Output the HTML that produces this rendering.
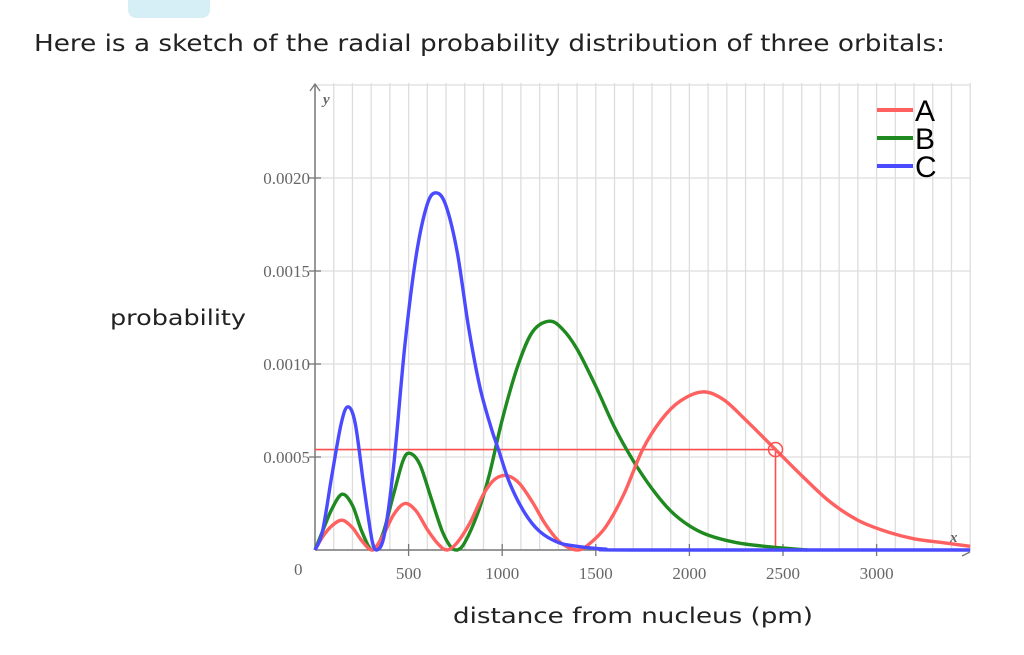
<!DOCTYPE html>
<html><head><meta charset="utf-8"><style>
html,body{margin:0;padding:0;background:#fff;width:1024px;height:655px;overflow:hidden;font-family:"DejaVu Sans",sans-serif}
</style></head><body>
<svg width="1024" height="655" viewBox="0 0 1024 655" xmlns="http://www.w3.org/2000/svg">
<rect x="128" y="-10" width="82" height="28" rx="8" fill="#d6eef6"/>
<text x="34" y="51" font-size="23" fill="#222" font-family="DejaVu Sans, sans-serif" textLength="911" lengthAdjust="spacingAndGlyphs">Here is a sketch of the radial probability distribution of three orbitals:</text>
<text x="110" y="325" font-size="21" fill="#222" font-family="DejaVu Sans, sans-serif" textLength="136" lengthAdjust="spacingAndGlyphs">probability</text>
<text x="453" y="623" font-size="21" fill="#222" font-family="DejaVu Sans, sans-serif" textLength="360" lengthAdjust="spacingAndGlyphs">distance from nucleus (pm)</text>
<g id="grid"></g>
<g id="axes"></g>
<g id="series"></g>
<g id="legend"></g>
</svg>
<script>
const xTicks=[500,1000,1500,2000,2500,3000];
const yTicks=[0.0005,0.0010,0.0015,0.0020];
const yTickLabels=["0.0005","0.0010","0.0015","0.0020"];
const seriesNames=["A","B","C"];
const xA=[0,40,90,145,200,250,305,360,420,480,540,600,660,705,760,830,900,960,1025,1090,1160,1230,1300,1360,1400,1450,1550,1650,1750,1850,1950,2070,2180,2300,2460,2600,2750,2900,3050,3200,3350,3500];
const yA=[0,0.00007,0.00013,0.00016,0.00012,0.00005,0,0.00007,0.00019,0.00025,0.00021,0.00011,0.00003,0,0.00004,0.00015,0.0003,0.00038,0.0004,0.00036,0.00026,0.00014,0.00005,0.00001,0,0.00002,0.00012,0.0003,0.00054,0.0007,0.0008,0.00085,0.00081,0.0007,0.00054,0.0004,0.00026,0.00016,0.0001,0.00006,0.00004,0.00002];
const xB=[0,40,90,145,200,250,305,360,420,470,507,560,620,680,730,760,800,870,930,1000,1080,1160,1250,1320,1400,1500,1600,1700,1800,1900,2000,2100,2250,2400,2630];
const yB=[0,0.0001,0.00022,0.0003,0.00024,0.0001,0,0.00008,0.0003,0.00048,0.00052,0.00046,0.00028,0.0001,0.00001,0,0.00004,0.0002,0.0004,0.0007,0.00098,0.00117,0.00123,0.00119,0.00108,0.00088,0.00066,0.00048,0.00033,0.00021,0.00013,0.00008,0.00004,0.00002,0];
const xC=[0,40,90,140,176,215,260,305,330,370,420,480,540,600,650,700,760,820,880,940,980,1040,1120,1200,1300,1400,1550,1700,3500];
const yC=[0,0.0001,0.0004,0.00068,0.00077,0.00068,0.00035,0.00005,0,0.00008,0.00045,0.0011,0.00158,0.00186,0.00192,0.00185,0.0016,0.0012,0.00088,0.00066,0.00054,0.00036,0.0002,0.0001,0.00004,0.00002,0.000005,0,0];
const markX=2460, markY=0.00054;
const NS="http://www.w3.org/2000/svg";
const X0=315,XS=93.6/500,Y0=550,YS=93/0.0005;
const sx=v=>X0+v*XS, sy=v=>Y0-v*YS;
function mk(tag,attrs,parent){const e=document.createElementNS(NS,tag);for(const k in attrs)e.setAttribute(k,attrs[k]);parent.appendChild(e);return e;}
const grid=document.getElementById('grid'),axes=document.getElementById('axes'),ser=document.getElementById('series'),leg=document.getElementById('legend');
for(let v=100;v<=3500;v+=100){const l=mk('line',{x1:sx(v),x2:sx(v),y1:83,y2:Y0,stroke:'#ddd','stroke-width':1.3},grid);

}
for(const v of [0.0005,0.001,0.0015,0.002,0.0025]){const l=mk('line',{x1:X0,x2:970,y1:sy(v),y2:sy(v),stroke:'#ddd','stroke-width':1.3},grid);

}
mk('line',{x1:X0,x2:X0,y1:Y0,y2:84,stroke:'#777','stroke-width':1.5},axes);
mk('path',{d:`M${X0-5} 91 L${X0} 84 L${X0+5} 91`,fill:'none',stroke:'#777','stroke-width':1.3},axes);
mk('line',{x1:X0,x2:970,y1:Y0,y2:Y0,stroke:'#777','stroke-width':1.5},axes);
mk('path',{d:`M962 556 L970 552`,fill:'none',stroke:'#777','stroke-width':1.3},axes);
let t=mk('text',{x:X0+8,y:104,'font-size':15,'font-style':'italic','font-weight':'bold','font-family':'Liberation Serif, serif',fill:'#666'},axes);t.textContent='y';
t=mk('text',{x:950,y:542,'font-size':15,'font-style':'italic','font-weight':'bold','font-family':'Liberation Serif, serif',fill:'#666'},axes);t.textContent='x';
t=mk('text',{x:294,y:575,'font-size':17,'font-family':'Liberation Serif, serif',fill:'#666'},axes);t.textContent='0';
xTicks.forEach(v=>{mk('line',{x1:sx(v),x2:sx(v),y1:Y0-6,y2:Y0+6,stroke:'#777','stroke-width':1.3},axes);
const tx=mk('text',{x:sx(v),y:579,'font-size':17,'text-anchor':'middle','font-family':'Liberation Serif, serif',fill:'#666'},axes);tx.textContent=v;

});
yTicks.forEach((v,i)=>{mk('line',{x1:X0-6,x2:X0+6,y1:sy(v),y2:sy(v),stroke:'#777','stroke-width':1.3},axes);
const tx=mk('text',{x:X0-5,y:sy(v)+6,'font-size':17,'text-anchor':'end','font-family':'Liberation Serif, serif',fill:'#666'},axes);tx.textContent=yTickLabels[i];

});
function curve(xs,ys){const p=xs.map((x,i)=>[sx(x),sy(ys[i])]);let d=`M${p[0][0]} ${p[0][1]}`;
for(let i=0;i<p.length-1;i++){const p0=p[i-1]||p[i],p1=p[i],p2=p[i+1],p3=p[i+2]||p2;
const c1=[p1[0]+(p2[0]-p0[0])/6,p1[1]+(p2[1]-p0[1])/6],c2=[p2[0]-(p3[0]-p1[0])/6,p2[1]-(p3[1]-p1[1])/6];
c1[1]=Math.min(c1[1],Y0);c2[1]=Math.min(c2[1],Y0);
d+=` C${c1[0]} ${c1[1]} ${c2[0]} ${c2[1]} ${p2[0]} ${p2[1]}`;}return d;}
const ml=mk('path',{d:`M${X0} ${sy(markY)} L${sx(markX)} ${sy(markY)} L${sx(markX)} ${Y0}`,fill:'none',stroke:'#ff4d4d','stroke-width':1.6},ser);


const colors=['#ff6060','#1f8a1f','#4a4aff'];
[[xB,yB],[xA,yA],[xC,yC]].forEach((s,k)=>{const idx=[1,0,2][k];
const p=mk('path',{d:curve(s[0],s[1]),fill:'none',stroke:colors[idx],'stroke-width':3.4,'stroke-linejoin':'round'},ser);

});
const mc=mk('circle',{cx:sx(markX),cy:sy(markY),r:7,fill:'none',stroke:'#ff4d4d','stroke-width':1.5},ser);


seriesNames.forEach((n,i)=>{const y=110+i*28;
const l=mk('line',{x1:877,x2:913,y1:y,y2:y,stroke:colors[i],'stroke-width':4},leg);


const tx=mk('text',{x:915,y:y+11,'font-size':30,fill:'#000','font-family':'Liberation Sans, sans-serif'},leg);tx.textContent=n;

});
</script>
</body></html>
